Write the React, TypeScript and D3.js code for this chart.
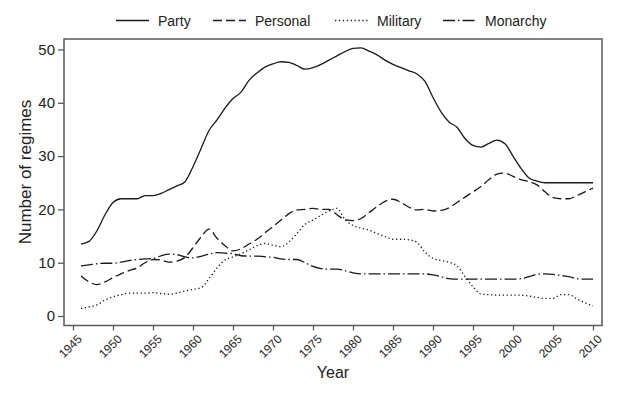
import React, { useRef, useEffect } from "react";
import * as d3 from "d3";

const years = d3.range(1946, 2011);

const party = [
  13.5, 14, 16, 19, 21.3, 22, 22, 22, 22.6, 22.6, 23, 23.7, 24.4, 25.2, 28,
  31.4, 34.8, 36.8, 39, 40.8, 42, 44.2, 45.6, 46.7, 47.3, 47.7, 47.6, 47,
  46.3, 46.6, 47.2, 48, 48.8, 49.6, 50.2, 50.3, 49.7, 49, 48, 47.2, 46.6, 46,
  45.4, 44, 41, 38.3, 36.4, 35.4, 33.3, 32, 31.7, 32.4, 33, 32.3, 30, 27.7,
  25.9, 25.3, 25, 25, 25, 25, 25, 25, 25,
];

const personal = [
  7.5, 6.4, 5.9, 6.4, 7.2, 7.9, 8.5, 9, 10, 10.6, 10.5, 10.1, 10.3, 11, 12.8,
  14.8, 16.3, 14.6, 13.2, 12.2, 12.6, 13.5, 14.4, 15.6, 16.8, 18, 19.2, 19.9,
  20, 20.2, 20, 20, 19, 18.1, 17.9, 18.3, 19.4, 20.5, 21.5, 21.9, 21.3, 20.4,
  19.9, 20, 19.7, 19.8, 20.3, 21.3, 22.3, 23.3, 24.3, 25.6, 26.6, 26.8, 26.2,
  25.6, 25.2, 24.6, 23.3, 22.2, 22, 22, 22.6, 23.3, 24,
];

const military = [
  1.4, 1.7, 2.1, 3, 3.6, 4, 4.3, 4.3, 4.3, 4.4, 4.2, 4.1, 4.3, 4.7, 5, 5.3, 7,
  9, 10.5, 11.1, 11.7, 12.4, 13.2, 13.6, 13.3, 13, 13.9, 15.5, 17.2, 18, 18.9,
  19.7, 20.2, 18.1, 17, 16.5, 16.1, 15.5, 14.9, 14.4, 14.4, 14.3, 13.8, 12,
  10.8, 10.4, 10.1, 9.4, 7.4, 5.5, 4.1, 4, 3.9, 3.9, 3.9, 3.9, 3.75, 3.5, 3.3,
  3.3, 4, 4, 3.2, 2.5, 1.9,
];

const monarchy = [
  9.4, 9.6, 9.8, 9.9, 9.9, 10.1, 10.4, 10.6, 10.7, 10.8, 11.3, 11.6, 11.5,
  11.1, 10.9, 11.2, 11.6, 11.9, 11.8, 11.7, 11.3, 11.25, 11.25, 11.1, 11, 10.7,
  10.6, 10.6, 10, 9.3, 8.9, 8.8, 8.8, 8.5, 8.1, 7.9, 7.9, 7.9, 7.9, 7.9, 7.9,
  7.9, 7.9, 7.9, 7.7, 7.4, 7, 6.9, 6.9, 6.9, 6.9, 6.9, 6.9, 6.9, 6.9, 7, 7.4,
  7.8, 7.9, 7.8, 7.6, 7.4, 7, 6.9, 6.9,
];

const xTicks = d3.range(1945, 2011, 5);
const yTicks = [0, 10, 20, 30, 40, 50];

const series = [
  { name: "Party", values: party, dash: null },
  { name: "Personal", values: personal, dash: "9,4" },
  { name: "Military", values: military, dash: "1.3,2.6" },
  { name: "Monarchy", values: monarchy, dash: "12,3,1.5,3" },
];

const W = 630;
const H = 396;
const box = { left: 64, right: 602, top: 39, bottom: 325.5 };
const FONT = "'Liberation Sans', Arial, sans-serif";

export default function App() {
  const svgRef = useRef<SVGSVGElement>(null);

  useEffect(() => {
    const svg = d3.select(svgRef.current);
    svg.selectAll("*").remove();

    const x = d3.scaleLinear().domain([1945, 2010]).range([73, 593]);
    const y = d3.scaleLinear().domain([0, 50]).range([316, 49.5]);

    // plot box
    svg
      .append("rect")
      .attr("x", box.left)
      .attr("y", box.top)
      .attr("width", box.right - box.left)
      .attr("height", box.bottom - box.top)
      .attr("fill", "white")
      .attr("stroke", "#5a5a5a")
      .attr("stroke-width", 1.5);

    // x axis
    svg
      .append("g")
      .attr("transform", `translate(0,${box.bottom})`)
      .call(d3.axisBottom(x).tickValues(xTicks).tickFormat(d3.format("d")).tickSize(5))
      .call((g) => g.select(".domain").remove())
      .call((g) => g.selectAll("line").attr("stroke", "#5a5a5a").attr("stroke-width", 1.3))
      .call((g) =>
        g
          .selectAll("text")
          .attr("font-family", FONT)
          .attr("font-size", 12)
          .attr("fill", "#222")
          .attr("text-anchor", "end")
          .attr("dy", 0)
          .attr("transform", "translate(3,8) rotate(-45)")
          .attr("y", 0)
          .attr("x", 0)
          .attr("dominant-baseline", "hanging")
      );

    // y axis
    svg
      .append("g")
      .attr("transform", `translate(${box.left},0)`)
      .call(d3.axisLeft(y).tickValues(yTicks).tickSize(6).tickPadding(3))
      .call((g) => g.select(".domain").remove())
      .call((g) => g.selectAll("line").attr("stroke", "#5a5a5a").attr("stroke-width", 1.3))
      .call((g) =>
        g
          .selectAll("text")
          .attr("font-family", FONT)
          .attr("font-size", 15)
          .attr("fill", "#222")
      );

    // axis titles
    svg
      .append("text")
      .attr("x", 333)
      .attr("y", 378)
      .attr("text-anchor", "middle")
      .attr("font-family", FONT)
      .attr("font-size", 16)
      .attr("fill", "#222")
      .text("Year");

    svg
      .append("text")
      .attr("transform", "translate(31,172) rotate(-90)")
      .attr("text-anchor", "middle")
      .attr("font-family", FONT)
      .attr("font-size", 17)
      .attr("fill", "#222")
      .text("Number of regimes");

    // lines
    const line = d3
      .line<number>()
      .x((d, i) => x(years[i]))
      .y((d) => y(d))
      .curve(d3.curveMonotoneX);

    series.forEach((s) => {
      svg
        .append("path")
        .attr("d", line(s.values))
        .attr("fill", "none")
        .attr("stroke", "#1a1a1a")
        .attr("stroke-width", 1.3)
        .attr("stroke-dasharray", s.dash);
    });

    // legend
    const legendX = [116, 213, 335, 443];
    const legend = svg.append("g");
    series.forEach((s, i) => {
      legend
        .append("line")
        .attr("x1", legendX[i])
        .attr("x2", legendX[i] + 33)
        .attr("y1", 20.5)
        .attr("y2", 20.5)
        .attr("stroke", "#1a1a1a")
        .attr("stroke-width", 1.3)
        .attr("stroke-dasharray", s.dash);
      legend
        .append("text")
        .attr("x", legendX[i] + 42)
        .attr("y", 26)
        .attr("font-family", FONT)
        .attr("font-size", 14)
        .attr("fill", "#222")
        .text(s.name);
    });
  }, []);

  return (
    <svg
      ref={svgRef}
      width={W}
      height={H}
      style={{ position: "absolute", left: 0, top: 0, background: "white" }}
    />
  );
}
